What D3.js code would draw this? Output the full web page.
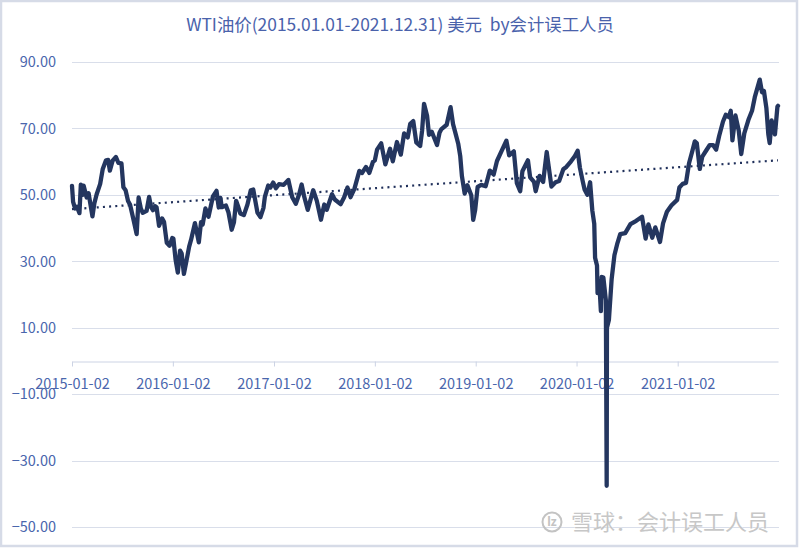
<!DOCTYPE html>
<html><head><meta charset="utf-8">
<script src="https://cdn.jsdelivr.net/npm/d3@7"></script>
<style>
html,body{margin:0;padding:0;background:#fff;}
svg{display:block;}
</style></head>
<body><svg id="c" width="800" height="549"></svg>
<script>
const titleText = "WTI油价(2015.01.01-2021.12.31) 美元  by会计误工人员";
const watermarkText = "雪球：会计误工人员";
const yTickValues = [90, 70, 50, 30, 10, -10, -30, -50];
const xTickLabels = ["2015-01-02","2016-01-02","2017-01-02","2018-01-02","2019-01-02","2020-01-02","2021-01-02"];
const trendDates = ["2015-01-02","2021-12-31"];
const trendValues = [45.7, 60.4];
const dates = [
"2015-01-02","2015-01-06","2015-01-13","2015-01-20","2015-01-29","2015-02-03","2015-02-10","2015-02-13","2015-02-24","2015-03-03","2015-03-17","2015-03-24","2015-04-01","2015-04-14","2015-04-23","2015-05-05","2015-05-13","2015-05-19","2015-05-29","2015-06-10","2015-06-19","2015-06-30","2015-07-07","2015-07-15","2015-07-24","2015-07-31","2015-08-11","2015-08-24","2015-08-31","2015-09-08","2015-09-15","2015-09-29","2015-10-08","2015-10-15","2015-10-22","2015-10-30","2015-11-04","2015-11-13","2015-11-24","2015-12-01","2015-12-11","2015-12-21","2015-12-31",
"2016-01-04","2016-01-12","2016-01-20","2016-01-28","2016-02-03","2016-02-11","2016-02-19","2016-03-01","2016-03-08","2016-03-22","2016-04-05","2016-04-13","2016-04-19","2016-04-29","2016-05-10","2016-05-26","2016-06-08","2016-06-16","2016-06-22","2016-06-27","2016-07-12","2016-07-21","2016-08-02","2016-08-10","2016-08-18","2016-08-24","2016-09-02","2016-09-15","2016-09-28","2016-10-10","2016-10-19","2016-11-03","2016-11-14","2016-11-25","2016-11-30","2016-12-12","2016-12-20","2016-12-30",
"2017-01-09","2017-01-20","2017-02-06","2017-02-23","2017-03-09","2017-03-22","2017-04-03","2017-04-12","2017-04-21","2017-05-04","2017-05-24","2017-06-06","2017-06-21","2017-07-03","2017-07-12","2017-07-31","2017-08-10","2017-08-31","2017-09-13","2017-09-25","2017-10-06","2017-10-20","2017-11-07","2017-11-17","2017-12-01","2017-12-13","2017-12-26",
"2018-01-02","2018-01-10","2018-01-25","2018-02-09","2018-02-26","2018-03-08","2018-03-23","2018-04-06","2018-04-18","2018-05-01","2018-05-10","2018-05-21","2018-06-01","2018-06-15","2018-06-22","2018-06-29","2018-07-10","2018-07-17","2018-07-27","2018-08-15","2018-08-24","2018-08-31","2018-09-19","2018-10-03","2018-10-12","2018-10-19","2018-10-31","2018-11-07","2018-11-13","2018-11-23","2018-12-03","2018-12-17","2018-12-24","2018-12-31",
"2019-01-09","2019-01-22","2019-02-07","2019-02-22","2019-03-08","2019-03-20","2019-04-05","2019-04-23","2019-05-03","2019-05-20","2019-05-31","2019-06-12","2019-06-20","2019-07-10","2019-07-18","2019-08-01","2019-08-07","2019-08-21","2019-09-03","2019-09-16","2019-09-23","2019-10-03","2019-10-18","2019-10-31","2019-11-15","2019-11-26","2019-12-13","2019-12-27",
"2020-01-06","2020-01-14","2020-01-24","2020-01-31","2020-02-10","2020-02-20","2020-02-28","2020-03-06","2020-03-09","2020-03-16","2020-03-18","2020-03-24","2020-03-30","2020-04-02","2020-04-08","2020-04-17","2020-04-20","2020-04-21","2020-04-28","2020-05-08","2020-05-18","2020-05-29","2020-06-08","2020-06-26","2020-07-15","2020-08-05","2020-08-26","2020-09-08","2020-09-18","2020-10-02","2020-10-13","2020-10-30","2020-11-10","2020-11-24","2020-12-10","2020-12-31",
"2021-01-08","2021-01-20","2021-02-01","2021-02-12","2021-02-24","2021-03-05","2021-03-12","2021-03-23","2021-04-01","2021-04-14","2021-04-28","2021-05-10","2021-05-21","2021-06-01","2021-06-15","2021-06-25","2021-07-06","2021-07-13","2021-07-19","2021-07-30","2021-08-11","2021-08-20","2021-08-31","2021-09-15","2021-09-28","2021-10-08","2021-10-26","2021-11-03","2021-11-10","2021-11-19","2021-11-26","2021-12-01","2021-12-08","2021-12-20","2021-12-29","2021-12-31"
];
const prices = [
52.7,47.9,45.9,46.4,44.5,53.1,50.0,52.8,49.2,50.5,43.5,47.5,50.1,53.3,57.7,60.4,60.5,57.3,60.3,61.4,59.6,59.5,52.3,51.4,48.1,47.1,43.1,38.2,49.2,45.9,44.6,45.2,49.4,46.4,45.4,46.6,46.3,40.7,42.9,41.9,35.6,34.7,37.0,
36.8,30.4,26.6,33.2,32.3,26.2,29.6,34.4,36.5,41.5,35.7,41.8,41.1,45.9,43.4,49.5,51.2,46.2,49.1,46.3,46.8,44.8,39.5,41.7,48.2,46.8,44.4,43.9,47.1,51.4,51.6,44.7,43.3,46.1,49.4,52.8,52.2,53.7,
52.0,53.2,53.0,54.5,49.3,47.3,50.2,53.1,49.6,45.5,51.4,48.2,42.5,47.1,45.5,50.2,48.6,47.2,49.3,52.2,49.3,51.8,57.2,56.6,58.4,56.6,59.9,
60.4,63.6,65.5,59.2,63.9,60.1,65.9,62.1,68.5,67.3,71.4,72.2,65.8,64.7,69.3,77.4,73.8,68.1,69.0,65.0,68.7,69.8,71.1,76.4,71.3,69.1,65.3,61.7,55.7,50.4,52.9,49.9,42.5,45.4,
52.4,53.0,52.6,57.3,56.1,60.2,63.1,66.3,61.9,63.1,53.5,51.1,57.1,60.4,55.3,53.9,51.1,55.7,53.9,62.9,58.6,52.5,53.8,54.2,57.7,58.4,60.1,61.7,
63.3,58.2,54.2,51.6,50.0,53.8,45.3,41.3,31.1,28.7,20.4,24.0,15.0,25.3,25.1,18.3,-37.6,10.0,12.3,24.7,31.8,35.5,38.2,38.5,41.2,42.2,43.4,36.8,41.1,37.1,40.2,35.8,41.4,44.9,46.8,48.5,
52.2,53.3,53.6,59.5,63.2,66.1,65.6,57.8,61.5,63.2,65.0,65.0,63.6,67.7,72.1,74.1,73.4,75.3,66.4,73.9,69.3,62.3,68.5,72.6,75.3,79.4,84.7,80.9,81.3,76.1,68.2,65.6,72.4,68.2,76.6,76.8
];

const parse = d3.timeParse("%Y-%m-%d");
const data = dates.map((d,i)=>({date:parse(d), v:prices[i]}));
const svg = d3.select("#c");
const mLeft=72, mRight=778, mTop=62, mBottom=527;
const x = d3.scaleTime().domain([parse("2015-01-02"), parse("2021-12-31")]).range([mLeft,mRight]);
const y = d3.scaleLinear().domain([-50,90]).range([mBottom,mTop]);

svg.append("rect").attr("x",1).attr("y",1).attr("width",796).attr("height",545)
  .attr("fill","#fff").attr("stroke","#d6dbe7").attr("stroke-width",2.5);

// gridlines
svg.append("g").selectAll("line").data(yTickValues).join("line")
  .attr("x1",mLeft).attr("x2",mRight+1).attr("y1",d=>Math.round(y(d))+0.5).attr("y2",d=>Math.round(y(d))+0.5)
  .attr("stroke","#d9deea").attr("stroke-width",1);

// y labels
svg.append("g").selectAll("text").data(yTickValues).join("text")
  .attr("x",56).attr("y",d=>y(d)).attr("dy","0.36em").attr("text-anchor","end")
  .attr("font-family","'Noto Sans CJK SC','Noto Sans',sans-serif").attr("font-size",14.5)
  .attr("fill","#4a66ad").text(d=>d3.format(".2f")(d));

// x axis at zero
const xTicks = xTickLabels.map(parse);
const xAxis = d3.axisBottom(x).tickValues(xTicks).tickSize(5).tickFormat(d3.timeFormat("%Y-%m-%d")).tickSizeOuter(0);
const gx = svg.append("g").attr("transform",`translate(0,${Math.round(y(0))+0.5})`).call(xAxis);
gx.select(".domain").attr("stroke","#ccd3e4");
gx.selectAll(".tick line").attr("stroke","#ccd3e4");
gx.selectAll(".tick text").attr("y",22).attr("dy","0.36em")
  .attr("font-family","'Noto Sans CJK SC','Noto Sans',sans-serif").attr("font-size",14.5).attr("fill","#4a66ad");

// trend line
const trend = trendDates.map((d,i)=>({date:parse(d), v:trendValues[i]}));
const ln = d3.line().x(d=>x(d.date)).y(d=>y(d.v));
svg.append("path").attr("d",ln(trend)).attr("fill","none").attr("stroke","#1f2f5a")
  .attr("stroke-width",2.2).attr("stroke-dasharray","2,4.2");

// price line
svg.append("path").attr("d",ln(data)).attr("fill","none").attr("stroke","#24365f")
  .attr("stroke-width",4.3).attr("stroke-linejoin","round").attr("stroke-linecap","round");

// title
svg.append("text").attr("x",400).attr("y",25).attr("dy","0.36em").attr("text-anchor","middle")
  .attr("font-family","'Noto Sans CJK SC',sans-serif").attr("font-size",17.4).attr("fill","#4a62ab")
  .style("white-space","pre").attr("xml:space","preserve")
  .text(titleText);

// watermark
const wm = svg.append("g").attr("opacity",0.9);
wm.append("circle").attr("cx",552).attr("cy",522).attr("r",9.5).attr("fill","none")
  .attr("stroke","#bdbdbd").attr("stroke-width",2);
wm.append("text").attr("x",552).attr("y",522).attr("dy","0.36em").attr("text-anchor","middle")
  .attr("font-family","'Noto Sans',sans-serif").attr("font-size",12).attr("font-weight","bold").attr("fill","#bdbdbd").text("lz");
wm.append("text").attr("x",571).attr("y",522).attr("dy","0.36em")
  .attr("font-family","'Noto Sans CJK SC',sans-serif").attr("font-size",22)
  .attr("fill","#c2c2c2").attr("stroke","#ffffff").attr("stroke-width",0.6).attr("paint-order","stroke")
  .text(watermarkText);
</script></body></html>
